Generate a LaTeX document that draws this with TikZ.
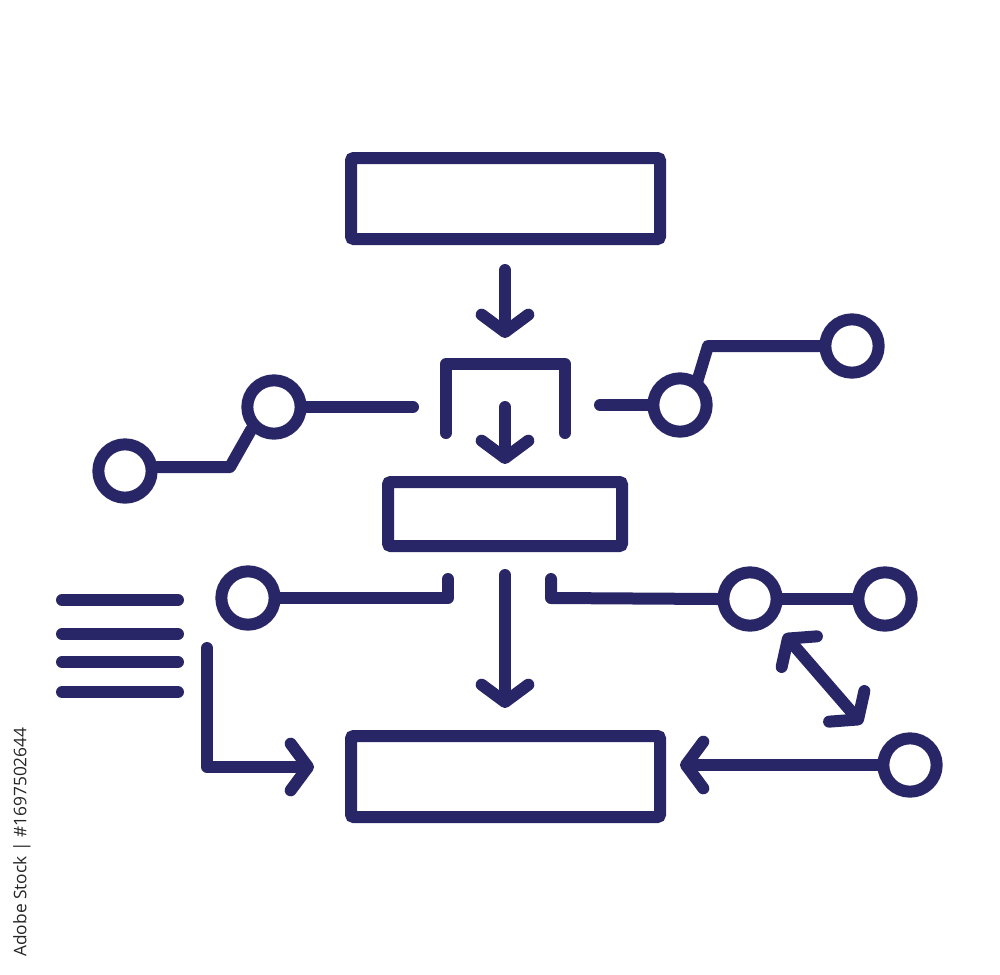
\documentclass[tikz,border=0pt]{standalone}
\usepackage{fontspec}
\setsansfont{Open Sans}
\usetikzlibrary{arrows.meta}

\definecolor{navy}{RGB}{40,38,102}

\tikzset{every picture/.style={line width=9pt}}
\tikzset{
  wire/.style={draw=navy, line width=9pt, line cap=round, line join=round},
  box/.style={draw=navy, line width=9pt, rounded corners=2pt, inner sep=0pt, fill=white},
  dot/.style={circle, draw=navy, line width=9pt, minimum size=40pt, inner sep=0pt, fill=white},
  flow/.style={wire, -{Straight Barb[length=13pt,width=35pt,line cap=round,line join=round]}},
  twoway/.style={wire, {Straight Barb[length=13pt,width=35pt,line cap=round,line join=round]}-{Straight Barb[length=13pt,width=35pt,line cap=round,line join=round]}}
}

\begin{document}
\begin{tikzpicture}[x=0.75pt,y=0.75pt,yscale=-1,xscale=1]
	\useasboundingbox (0,0) rectangle (1000,975);

	%Boxes
	\node [box, minimum width=231.75pt, minimum height=60.75pt] (top) at (505.5,198.5) {};
	\node [box, minimum width=175.5pt, minimum height=48pt] (mid) at (505,514) {};
	\node [box, minimum width=231.75pt, minimum height=60.75pt] (bot) at (505.5,776.5) {};

	%Bracket
	\draw [wire] (446,433) -- (446,364) -- (565,364) -- (565,433) ;

	%Arrows down
	\coordinate (a1s) at (505,270) ; \coordinate (a1e) at (505,338) ;
	\draw [flow] (a1s) -- (a1e) ;
	\coordinate (a2s) at (505,407) ; \coordinate (a2e) at (505,464) ;
	\draw [flow] (a2s) -- (a2e) ;
	\coordinate (a3s) at (505,575) ;
	\draw [flow] (a3s) -- (505,708) ;

	%Left chain
	\node [dot] (c1) at (125,471) {};
	\node [dot] (c2) at (274,407) {};
	\coordinate (k1) at (230,467) ;
	\coordinate (e1) at (413,407) ;
	\draw [wire] (c1.east |- k1) -- (k1) -- (c2.south west) ;
	\draw [wire] (c2) ++(27,0) -- (e1) ;

	%Right chain
	\node [dot] (c3) at (680,405) {};
	\node [dot] (c4) at (852,346) {};
	\coordinate (e2) at (600,405) ;
	\coordinate (k2) at (708,346) ;
	\draw [wire] (e2) -- (c3.west) ;
	\draw [wire] (c3.north east) ++(-6,0) -- (k2) -- (c4.west) ;

	%Middle row
	\node [dot] (c5) at (248,598) {};
	\node [dot] (c6) at (750,599) {};
	\node [dot] (c7) at (885,599) {};
	\draw [wire] (c5.east) -- (448,598) -- (448,579) ;
	\draw [wire] (551,579) -- (551,598) -- (c6.west) ;
	\draw [wire] (c6.east) -- (c7.west) ;

	%Double arrow
	\coordinate (d1) at (784,634) ; \coordinate (d2) at (862,724) ;
	\draw [twoway] (d1) -- (d2) ;

	%Into bottom box
	\node [dot] (c8) at (910,765) {};
	\draw [flow] (c8.west) -- (680,765) ;
	\coordinate (l1) at (207,648) ; \coordinate (l2) at (207,767) ;
	\draw [flow] (l1) -- (l2) -- (314,767) ;

	%Text lines
	\foreach \y in {600,634,662,692} {
		\draw [wire] (62,\y) -- (178,\y) ;
	}

	% Text Node
	\node [rotate=90, font=\sffamily\fontsize{13}{15}\selectfont, text=black!85, inner sep=0pt] (mark) at (22,842) {Adobe Stock | \#1697502644};

\end{tikzpicture}
\end{document}
